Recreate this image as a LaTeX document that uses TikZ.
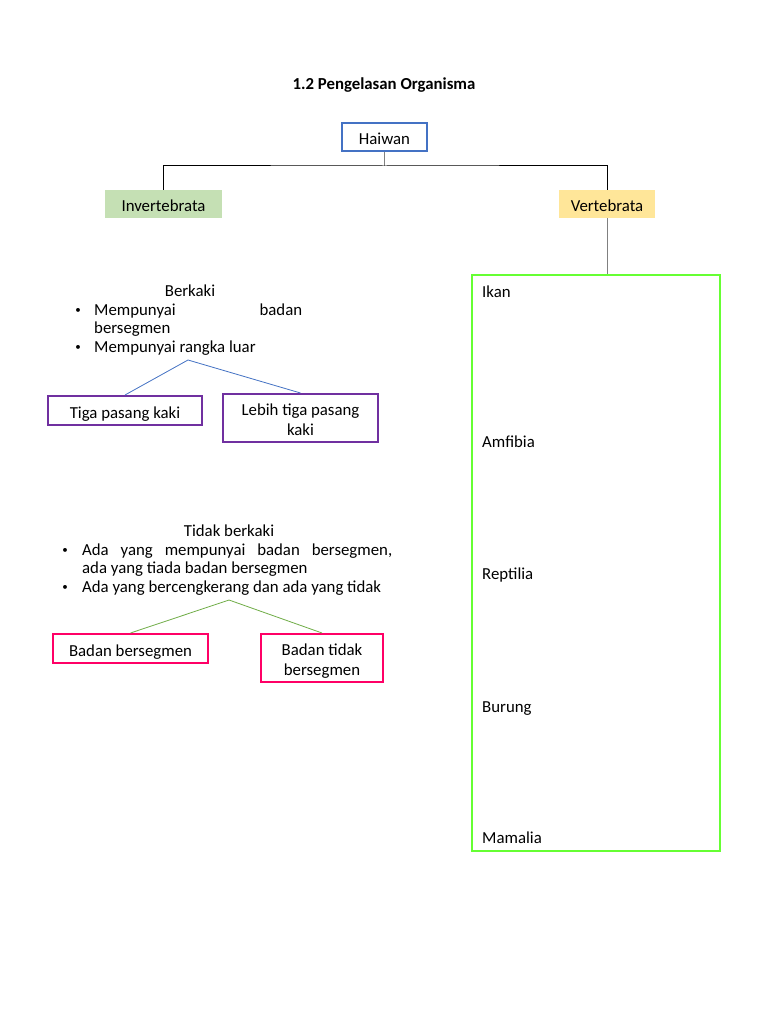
\documentclass[tikz,border=0pt]{standalone}
\usepackage{fontspec}
\setmainfont{Carlito}
\definecolor{hblue}{HTML}{4472C4}
\definecolor{ifill}{HTML}{C5E0B4}
\definecolor{vfill}{HTML}{FFE699}
\definecolor{purp}{HTML}{7030A0}
\definecolor{pinkb}{HTML}{FF0066}
\definecolor{brgreen}{HTML}{66FF33}
\definecolor{lgreen}{HTML}{70AD47}
\newcommand{\smallbul}{{\fontsize{11}{11}\selectfont\raisebox{2pt}{•}}}
\begin{document}
\begin{tikzpicture}[x=1pt,y=-1pt,
  every node/.style={font=\fontsize{16.8}{20}\selectfont, inner sep=0pt, text=black},
  box/.style={draw, line width=2pt, align=center, text depth=0pt},
  onebox/.style={box, text height=15pt},
  twobox/.style={box, text height=35pt},
  fillbox/.style={align=center, minimum height=28, text depth=0pt, text height=15pt},
  conn/.style={line width=1pt}]
\useasboundingbox (0,0) rectangle (768,1024);
\fill[white] (0,0) rectangle (768,1024);

% title
\node[anchor=base, font=\bfseries\fontsize{16.8}{20}\selectfont] (title) at (384,89.5) {1.2 Pengelasan Organisma};

% top tree
\node[onebox, draw=hblue, minimum width=85, minimum height=28] (haiwan) at (384.5,137) {Haiwan};
\node[fillbox, fill=ifill, minimum width=117] (inv) at (163.5,204) {Invertebrata};
\node[fillbox, fill=vfill, minimum width=96] (vert) at (607,204) {Vertebrata};
\coordinate (j) at (384.5,166);
\draw[conn, gray] (haiwan.south) -- (j);
\draw[conn] (inv.north) |- (j) -| (vert.north);

% vertebrata box
\node[draw=brgreen, line width=2pt, minimum width=248, minimum height=576] (vbox) at (596,563) {};
\draw[conn, gray] (vert.south) -- (vert.south |- vbox.north);
\node[anchor=base west] (ikan) at (482,297) {Ikan};
\node[anchor=base west] (amfibia) at (482,447) {Amfibia};
\node[anchor=base west] (reptilia) at (482,579) {Reptilia};
\node[anchor=base west] (burung) at (482,712) {Burung};
\node[anchor=base west] (mamalia) at (482,843) {Mamalia};

% Berkaki
\node[anchor=base] (berkaki) at (190,296) {Berkaki};
\node[anchor=base] (bu1) at (78,315) {\smallbul};
\node[anchor=base west] (l1) at (94,315) {\hbox to 208pt{Mempunyai\hfill badan}};
\node[anchor=base west] (l2) at (94,333.5) {bersegmen};
\node[anchor=base] (bu2) at (78,352) {\smallbul};
\node[anchor=base west] (l3) at (94,352) {Mempunyai rangka luar};
\coordinate (apex1) at (188,360);
\node[onebox, draw=purp, minimum width=154, minimum height=29] (tiga) at (125,410.5) {Tiga pasang kaki};
\node[twobox, draw=purp, minimum width=155, minimum height=48] (lebih) at (300.5,418) {Lebih tiga pasang\\kaki};
\draw[hblue, line width=0.8pt] (tiga.north) -- (apex1) -- (lebih.north);

% Tidak berkaki
\node[anchor=base] (tidak) at (229,536) {Tidak berkaki};
\node[anchor=base] (bu3) at (65,555) {\smallbul};
\node[anchor=base west] (l4) at (82,555) {\hbox to 310pt{Ada yang mempunyai badan bersegmen,}};
\node[anchor=base west] (l5) at (82,573.5) {ada yang tiada badan bersegmen};
\node[anchor=base] (bu4) at (65,592) {\smallbul};
\node[anchor=base west] (l6) at (82,592) {Ada yang bercengkerang dan ada yang tidak};
\coordinate (apex2) at (229,600);
\node[onebox, draw=pinkb, minimum width=155, minimum height=29] (bb) at (130.5,648.5) {Badan bersegmen};
\node[twobox, draw=pinkb, minimum width=122, minimum height=48] (bt) at (322,658) {Badan tidak\\bersegmen};
\draw[lgreen, line width=0.8pt] (bb.north) -- (apex2) -- (bt.north);
\end{tikzpicture}
\end{document}
